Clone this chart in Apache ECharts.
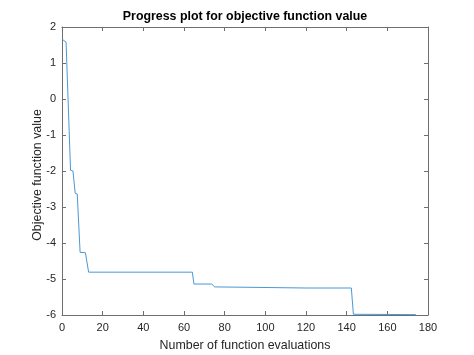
<!DOCTYPE html>
<html>
<head>
<meta charset="utf-8">
<script src="https://cdn.jsdelivr.net/npm/echarts@6/dist/echarts.min.js"></script>
<style>
html,body{margin:0;padding:0;background:#fff;}
#chart{width:474px;height:355px;}
</style>
</head>
<body>
<div id="chart"></div>
<script>
// Data
var evaluations = [0, 1, 2, 4.2, 5.4, 6.5, 7.5, 8.9, 11.5, 13.1, 64.1, 64.9, 73.6, 75.1, 91, 120, 142.3, 143.3, 174];
var objectiveValues = [1.67, 1.62, 1.58, -1.98, -2.0, -2.62, -2.64, -4.26, -4.27, -4.81, -4.81, -5.14, -5.14, -5.22, -5.23, -5.25, -5.25, -5.98, -5.99];
var xTicks = [0, 20, 40, 60, 80, 100, 120, 140, 160, 180];
var yTicks = [-6, -5, -4, -3, -2, -1, 0, 1, 2];

var titleText = 'Progress plot for objective function value';
var xLabelText = 'Number of function evaluations';
var yLabelText = 'Objective function value';

var points = evaluations.map(function (x, i) { return [x, objectiveValues[i]]; });

var axisColor = '#6e6e6e';
var textColor = '#262626';
var font = 'Liberation Sans, Arial, Helvetica, sans-serif';

var chart = echarts.init(document.getElementById('chart'), null, {renderer: 'canvas'});

var xMin = xTicks[0], xMax = xTicks[xTicks.length - 1];
var yMin = yTicks[0], yMax = yTicks[yTicks.length - 1];

function mkX(pos, show) {
  return {
    type: 'value', position: pos, min: xMin, max: xMax, interval: 20,
    axisLine: {show: true, onZero: false, lineStyle: {color: axisColor, width: 1}},
    axisTick: {show: true, inside: true, length: 4, lineStyle: {color: axisColor, width: 1}},
    axisLabel: {show: show, color: textColor, fontSize: 11, fontFamily: font, margin: 7},
    splitLine: {show: false}
  };
}
function mkY(pos, show) {
  return {
    type: 'value', position: pos, min: yMin, max: yMax, interval: 1,
    axisLine: {show: true, onZero: false, lineStyle: {color: axisColor, width: 1}},
    axisTick: {show: true, inside: true, length: 4, lineStyle: {color: axisColor, width: 1}},
    axisLabel: {show: show, color: textColor, fontSize: 11, fontFamily: font, margin: 6},
    splitLine: {show: false}
  };
}

chart.setOption({
  animation: false,
  backgroundColor: '#ffffff',
  grid: {left: 62, right: 46, top: 27, bottom: 40, containLabel: false},
  xAxis: [mkX('bottom', true), mkX('top', false)],
  yAxis: [mkY('left', true), mkY('right', false)],
  series: [{
    type: 'line',
    xAxisIndex: 0, yAxisIndex: 0,
    data: points,
    showSymbol: false,
    symbol: 'none',
    lineStyle: {color: '#4a98d3', width: 1},
    silent: true
  }],
  graphic: [
    {type: 'text', x: 245, y: 17, style: {text: titleText, fill: '#000', font: 'bold 12.4px ' + font, textAlign: 'center', textVerticalAlign: 'middle'}},
    {type: 'text', x: 245, y: 346, style: {text: xLabelText, fill: textColor, font: '12.4px ' + font, textAlign: 'center', textVerticalAlign: 'middle'}},
    {type: 'text', x: 38, y: 175, rotation: Math.PI / 2, style: {text: yLabelText, fill: textColor, font: '12.4px ' + font, textAlign: 'center', textVerticalAlign: 'middle'}}
  ]
});
</script>
</body>
</html>
